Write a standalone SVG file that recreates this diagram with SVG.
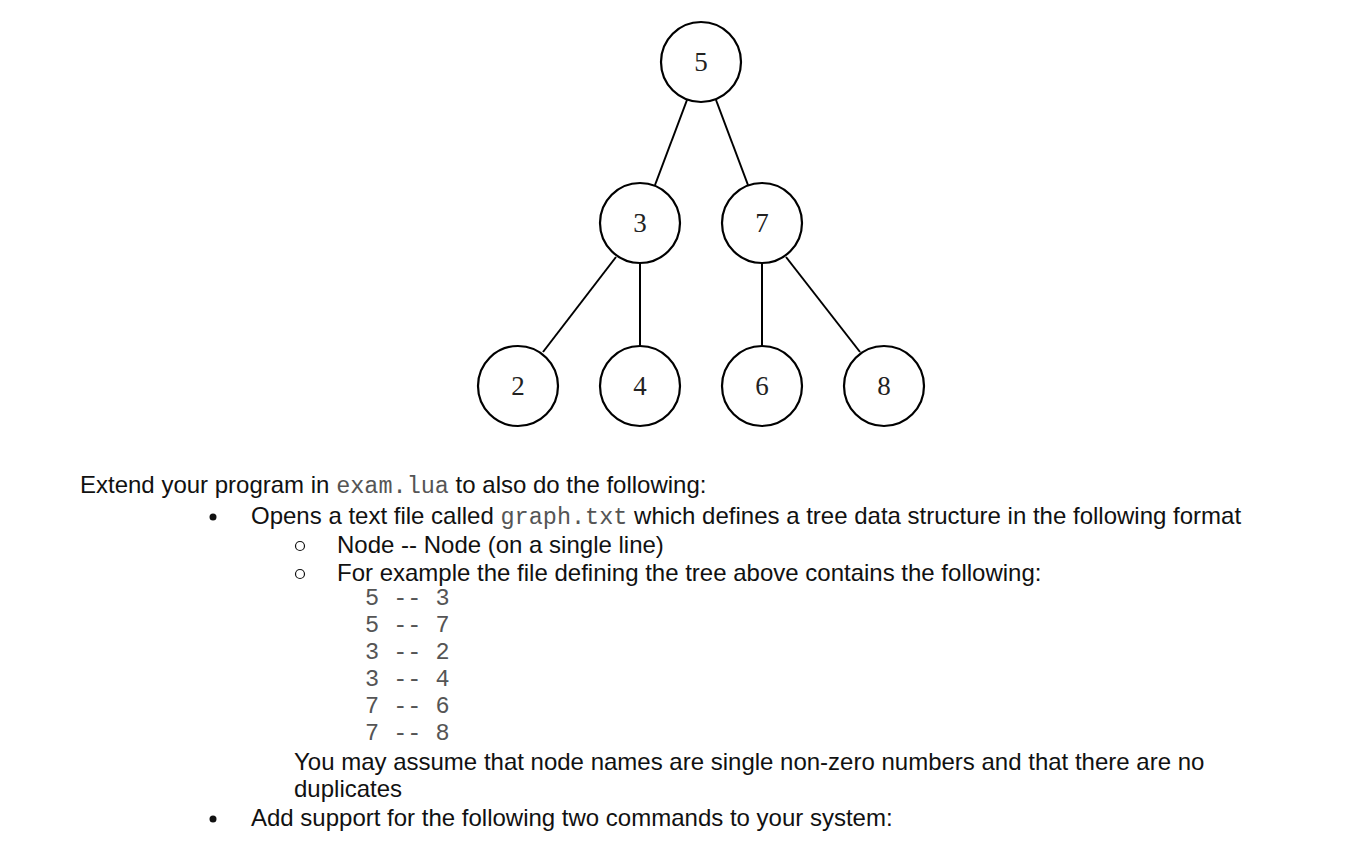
<svg xmlns="http://www.w3.org/2000/svg" width="1357" height="854" viewBox="0 0 1357 854">
<style>
.n circle{fill:#fff;stroke:#000;stroke-width:2.2}
.n text{font-family:"Liberation Serif",serif;font-size:27px;text-anchor:middle;fill:#222}
.e line{stroke:#000;stroke-width:2}
.t{font-family:"Liberation Sans",Arial,sans-serif;font-size:24px;fill:#111}
.m{font-family:"Liberation Mono",monospace;font-size:23.5px;fill:#555}
</style>
<rect width="1357" height="854" fill="#fff"/>
<g id="edges" class="e">
<line x1="687" y1="100" x2="655" y2="185"/>
<line x1="716" y1="100" x2="748" y2="185"/>
<line x1="616" y1="257" x2="543" y2="352"/>
<line x1="640" y1="263" x2="640" y2="346"/>
<line x1="762" y1="263" x2="762" y2="346"/>
<line x1="786" y1="257" x2="860" y2="352"/>
</g>
<g id="n5" class="n"><circle cx="701" cy="62" r="40"/><text x="701" y="71">5</text></g>
<g id="n3" class="n"><circle cx="640" cy="223" r="40"/><text x="640" y="232">3</text></g>
<g id="n7" class="n"><circle cx="762" cy="223" r="40"/><text x="762" y="232">7</text></g>
<g id="n2" class="n"><circle cx="518" cy="386" r="40"/><text x="518" y="395">2</text></g>
<g id="n4" class="n"><circle cx="640" cy="386" r="40"/><text x="640" y="395">4</text></g>
<g id="n6" class="n"><circle cx="762" cy="386" r="40"/><text x="762" y="395">6</text></g>
<g id="n8" class="n"><circle cx="884" cy="386" r="40"/><text x="884" y="395">8</text></g>
<g id="text">
<text class="t" x="80" y="493">Extend your program in <tspan class="m">exam.lua</tspan> to also do the following:</text>
<circle cx="213" cy="517" r="3.5" fill="#111"/>
<text class="t" x="251" y="524">Opens a text file called <tspan class="m">graph.txt</tspan> which defines a tree data structure in the following format</text>
<circle cx="300" cy="546" r="4.5" fill="none" stroke="#111" stroke-width="1.2"/>
<text class="t" x="337" y="553">Node -- Node (on a single line)</text>
<circle cx="300" cy="574" r="4.5" fill="none" stroke="#111" stroke-width="1.2"/>
<text class="t" x="337" y="581">For example the file defining the tree above contains the following:</text>
<text class="m" x="365" y="605" xml:space="preserve">5 -- 3</text>
<text class="m" x="365" y="632" xml:space="preserve">5 -- 7</text>
<text class="m" x="365" y="659" xml:space="preserve">3 -- 2</text>
<text class="m" x="365" y="686" xml:space="preserve">3 -- 4</text>
<text class="m" x="365" y="713" xml:space="preserve">7 -- 6</text>
<text class="m" x="365" y="740" xml:space="preserve">7 -- 8</text>
<text class="t" x="294" y="770">You may assume that node names are single non-zero numbers and that there are no</text>
<text class="t" x="294" y="797">duplicates</text>
<circle cx="213" cy="819" r="3.5" fill="#111"/>
<text class="t" x="251" y="826">Add support for the following two commands to your system:</text>
</g>
</svg>
